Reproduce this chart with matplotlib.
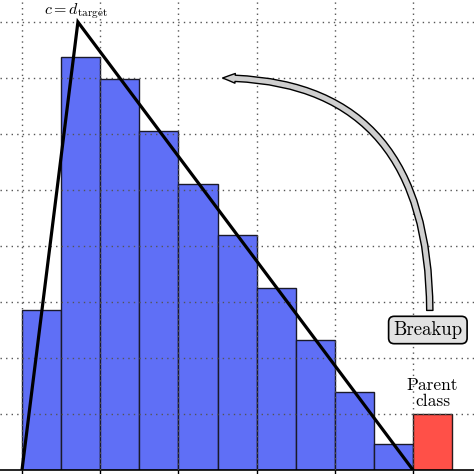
import numpy as np
import matplotlib
matplotlib.use('Agg')
import matplotlib.pyplot as plt
from matplotlib.patches import FancyArrowPatch

plt.rcParams['font.family'] = 'cmr10'
plt.rcParams['mathtext.fontset'] = 'cm'
plt.rcParams['axes.formatter.use_mathtext'] = True

# histogram of daughter classes after breakup
bin_heights = [2.86, 7.375, 6.98, 6.05, 5.1, 4.2, 3.25, 2.32, 1.39, 0.46]
parent_height = 1.0

# triangular target distribution
tri_x = [0, 1.43, 10]
tri_y = [0, 8, 0]

x_ticks = [0, 2, 4, 6, 8, 10]
y_grid = [1, 2, 3, 4, 5, 6, 7, 8]

fig = plt.figure(figsize=(4.74, 4.74), dpi=100)
ax = fig.add_axes([0, 4 / 474, 1, 470 / 474])

# daughter bins
idx = np.arange(len(bin_heights))
ax.bar(idx, bin_heights, width=1, align='edge', color='#5f6ff6',
       edgecolor='#1a1a2a', linewidth=1, zorder=1)

# parent class
ax.bar([len(bin_heights)], [parent_height], width=1, align='edge',
       color='#ff5048', edgecolor='#2a1a1a', linewidth=1, zorder=1)

# triangle
ax.plot(tri_x, tri_y, color='black', linewidth=2.3, zorder=4,
        solid_joinstyle='miter')

ax.text(tri_x[1] - 0.06, 8.19, r'$c = d_{\rm target}$', ha='center', va='center',
        fontsize=11.5)

ax.text(10.5, 1.37, 'Parent\nclass', ha='center', va='center', fontsize=12.5,
        linespacing=1.0)

ax.text(10.38, 2.5, 'Breakup', ha='center', va='center', fontsize=13.5,
        bbox=dict(boxstyle='round,pad=0.25,rounding_size=0.3', fc='#e2e2e2',
                  ec='black', lw=1.2), zorder=5)

arrow = FancyArrowPatch((10.43, 2.8), (5.06, 7.0),
                        connectionstyle='angle3,angleA=90,angleB=0',
                        arrowstyle='simple,head_length=0.9,head_width=0.7,tail_width=0.45',
                        mutation_scale=10, fc='#cfcfcf', ec='black', lw=1.0,
                        zorder=5)
ax.add_patch(arrow)

# grid
ax.set_xticks(x_ticks)
ax.set_yticks(y_grid)
ax.grid(True, linestyle=(0, (1, 3)), color='#555555', linewidth=1)
ax.set_axisbelow(False)
ax.tick_params(axis='x', direction='out', length=4, width=1, labelbottom=False)
ax.tick_params(axis='y', length=0, labelleft=False)

ax.set_xlim(-22 / 39.1, (474 - 22) / 39.1)
ax.set_ylim(0, 470 / 56)
for s in ['left', 'top', 'right']:
    ax.spines[s].set_visible(False)
ax.spines['bottom'].set_linewidth(1.2)

fig.savefig('out.png', dpi=100)
